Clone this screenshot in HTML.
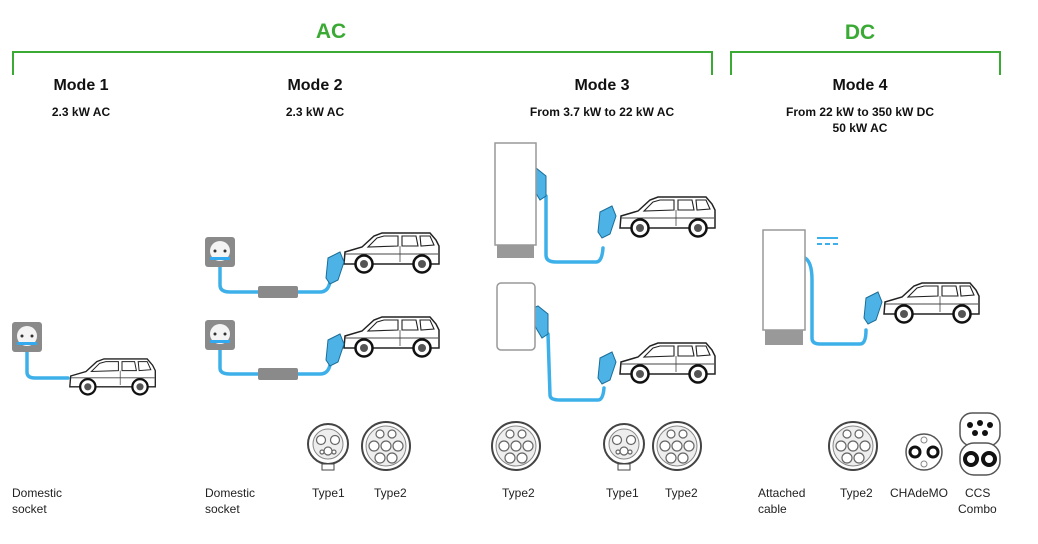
<!DOCTYPE html>
<html><head><meta charset="utf-8"><style>
html,body{margin:0;padding:0;background:#fff;}
svg{display:block;font-family:"Liberation Sans",Arial,sans-serif;}
</style></head><body>
<svg width="1038" height="544" viewBox="0 0 1038 544" xmlns="http://www.w3.org/2000/svg">
<defs>
<g id="car">
 <path d="M2,32 L3,20 L20,15 L32,4 L40,1 L88,1 L94,8 L97,14 L97,32 Z" fill="#fff" stroke="#222" stroke-width="1.5"/>
 <path d="M35,6 L42,4 L56,4 L56,14 L26,15 Z M60,4 L74,4 L76,14 L60,14 Z M78,4 L88,4 L92,13 L79,14 Z" fill="#fff" stroke="#222" stroke-width="1.1"/>
 <line x1="3" y1="22" x2="96" y2="22" stroke="#444" stroke-width="1"/>
 <line x1="58" y1="14" x2="58" y2="30" stroke="#444" stroke-width="0.8"/>
 <circle cx="22" cy="32" r="8.5" fill="#fff" stroke="#111" stroke-width="2.5"/><circle cx="22" cy="32" r="4" fill="#555"/>
 <circle cx="80" cy="32" r="8.5" fill="#fff" stroke="#111" stroke-width="2.5"/><circle cx="80" cy="32" r="4" fill="#555"/>
</g>
<g id="plug">
 <path d="M0,0 L12,-6 L16,4 L10,22 L2,26 L-2,20 Z" fill="#4db3e6" stroke="#1a6e99" stroke-width="1"/>
</g>
<g id="sock">
 <rect x="0" y="0" width="30" height="30" rx="3" fill="#8a8a8a"/>
 <circle cx="15" cy="14" r="10" fill="#f4f4f4"/>
 <circle cx="10" cy="14" r="1.5" fill="#333"/><circle cx="20" cy="14" r="1.5" fill="#333"/>
 <rect x="5" y="20" width="20" height="3" fill="#33aaf0"/>
</g>
<g id="t2">
 <ellipse cx="24" cy="24" rx="24" ry="24" fill="#fff" stroke="#444" stroke-width="2"/>
 <ellipse cx="24" cy="24" rx="20" ry="20" fill="#eee" stroke="#888" stroke-width="1"/>
 <g fill="#fff" stroke="#666" stroke-width="1.2">
 <circle cx="18" cy="12" r="4"/><circle cx="30" cy="12" r="4"/>
 <circle cx="12" cy="24" r="5"/><circle cx="24" cy="24" r="5"/><circle cx="36" cy="24" r="5"/>
 <circle cx="18" cy="36" r="5"/><circle cx="30" cy="36" r="5"/></g>
</g>
<g id="t1">
 <circle cx="20" cy="24" r="20" fill="#fff" stroke="#444" stroke-width="2"/>
 <circle cx="20" cy="24" r="15" fill="#eee" stroke="#888"/>
 <rect x="14" y="44" width="12" height="6" fill="#fff" stroke="#444"/>
 <g fill="#fff" stroke="#666" stroke-width="1.2"><circle cx="13" cy="20" r="4.5"/><circle cx="27" cy="20" r="4.5"/><circle cx="20" cy="31" r="4"/><circle cx="14" cy="32" r="2"/><circle cx="26" cy="32" r="2"/></g>
</g>
</defs>

<g fill="#3aaa35" font-weight="bold" font-size="21" text-anchor="middle">
 <text x="331" y="38">AC</text><text x="860" y="39">DC</text>
</g>
<path d="M13,75 V52 H712 V75" fill="none" stroke="#3aaa35" stroke-width="2"/>
<path d="M731,75 V52 H1000 V75" fill="none" stroke="#3aaa35" stroke-width="2"/>

<g font-weight="bold" font-size="16" text-anchor="middle" fill="#111">
 <text x="81" y="90">Mode 1</text><text x="315" y="90">Mode 2</text>
 <text x="602" y="90">Mode 3</text><text x="860" y="90">Mode 4</text>
</g>
<g font-weight="bold" font-size="12" text-anchor="middle" fill="#111">
 <text x="81" y="116">2.3 kW AC</text><text x="315" y="116">2.3 kW AC</text>
 <text x="602" y="116">From 3.7 kW to 22 kW AC</text>
 <text x="860" y="116">From 22 kW to 350 kW DC</text><text x="860" y="132">50 kW AC</text>
</g>

<g fill="none" stroke="#3db0ea" stroke-width="3.5" stroke-linecap="round">
 <path d="M27,350 V372 Q27,378 35,378 H68"/>
 <path d="M220,265 V285 Q220,292 230,292 H320 Q328,292 330,282"/>
 <path d="M220,348 V368 Q220,374 230,374 H320 Q328,374 330,365"/>
 <path d="M546,196 V255 Q546,262 556,262 H596 Q602,262 603,248"/>
 <path d="M548,334 L550,395 Q550,400 560,400 H598 Q603,400 604,388"/>
 <path d="M805,258 Q812,262 812,280 V338 Q812,344 820,344 H860 Q866,344 866,330"/>
</g>

<use href="#sock" x="12" y="322"/>
<use href="#sock" x="205" y="237"/>
<use href="#sock" x="205" y="320"/>
<rect x="258" y="286" width="40" height="12" rx="2" fill="#8a8a8a"/>
<rect x="258" y="368" width="40" height="12" rx="2" fill="#8a8a8a"/>

<g transform="translate(68,358) scale(0.9)"><use href="#car"/></g>
<use href="#car" x="342" y="232"/>
<use href="#car" x="342" y="316"/>
<use href="#car" x="618" y="196"/>
<use href="#car" x="618" y="342"/>
<use href="#car" x="882" y="282"/>

<use href="#plug" x="328" y="258"/>
<use href="#plug" x="328" y="340"/>
<use href="#plug" x="600" y="212"/>
<use href="#plug" x="600" y="358"/>
<use href="#plug" x="866" y="298"/>
<path d="M526,172 L536,168 L546,176 L546,196 L540,200 L534,190 Z" fill="#4db3e6" stroke="#1a6e99"/>
<path d="M528,310 L538,306 L548,314 L548,334 L542,338 L536,328 Z" fill="#4db3e6" stroke="#1a6e99"/>

<rect x="495" y="143" width="41" height="102" fill="#fff" stroke="#999" stroke-width="1.5"/>
<rect x="497" y="245" width="37" height="13" fill="#999"/>
<rect x="497" y="283" width="38" height="67" rx="4" fill="#fff" stroke="#999" stroke-width="1.5"/>
<rect x="763" y="230" width="42" height="100" fill="#fff" stroke="#999" stroke-width="1.5"/>
<rect x="765" y="330" width="38" height="15" fill="#999"/>
<path d="M817,238 H838 M817,244 H822 M825,244 H830 M833,244 H838" stroke="#3db0ea" stroke-width="2"/>

<use href="#t1" x="308" y="420"/>
<use href="#t2" x="362" y="422"/>
<use href="#t2" x="492" y="422"/>
<use href="#t1" x="604" y="420"/>
<use href="#t2" x="653" y="422"/>
<use href="#t2" x="829" y="422"/>
<g>
 <circle cx="924" cy="452" r="18" fill="#fff" stroke="#555" stroke-width="1.5"/>
 <circle cx="915" cy="452" r="5" fill="#fff" stroke="#111" stroke-width="3"/>
 <circle cx="933" cy="452" r="5" fill="#fff" stroke="#111" stroke-width="3"/>
 <circle cx="924" cy="440" r="3" fill="#fff" stroke="#888"/><circle cx="924" cy="464" r="3" fill="#fff" stroke="#888"/>
</g>
<g>
 <rect x="960" y="413" width="40" height="33" rx="12" fill="#fff" stroke="#555" stroke-width="1.5"/>
 <rect x="960" y="443" width="40" height="32" rx="14" fill="#fff" stroke="#555" stroke-width="1.5"/>
 <g fill="#111"><circle cx="970" cy="425" r="3"/><circle cx="980" cy="423" r="3"/><circle cx="990" cy="425" r="3"/><circle cx="975" cy="433" r="3"/><circle cx="985" cy="433" r="3"/></g>
 <circle cx="971" cy="459" r="6" fill="#fff" stroke="#111" stroke-width="4"/>
 <circle cx="989" cy="459" r="6" fill="#fff" stroke="#111" stroke-width="4"/>
</g>

<g font-size="12" fill="#222">
 <text x="12" y="497">Domestic</text><text x="12" y="513">socket</text>
 <text x="205" y="497">Domestic</text><text x="205" y="513">socket</text>
 <text x="312" y="497">Type1</text><text x="374" y="497">Type2</text>
 <text x="502" y="497">Type2</text><text x="606" y="497">Type1</text><text x="665" y="497">Type2</text>
 <text x="758" y="497">Attached</text><text x="758" y="513">cable</text>
 <text x="840" y="497">Type2</text><text x="890" y="497">CHAdeMO</text>
 <text x="965" y="497">CCS</text><text x="958" y="513">Combo</text>
</g>
</svg>
</body></html>
